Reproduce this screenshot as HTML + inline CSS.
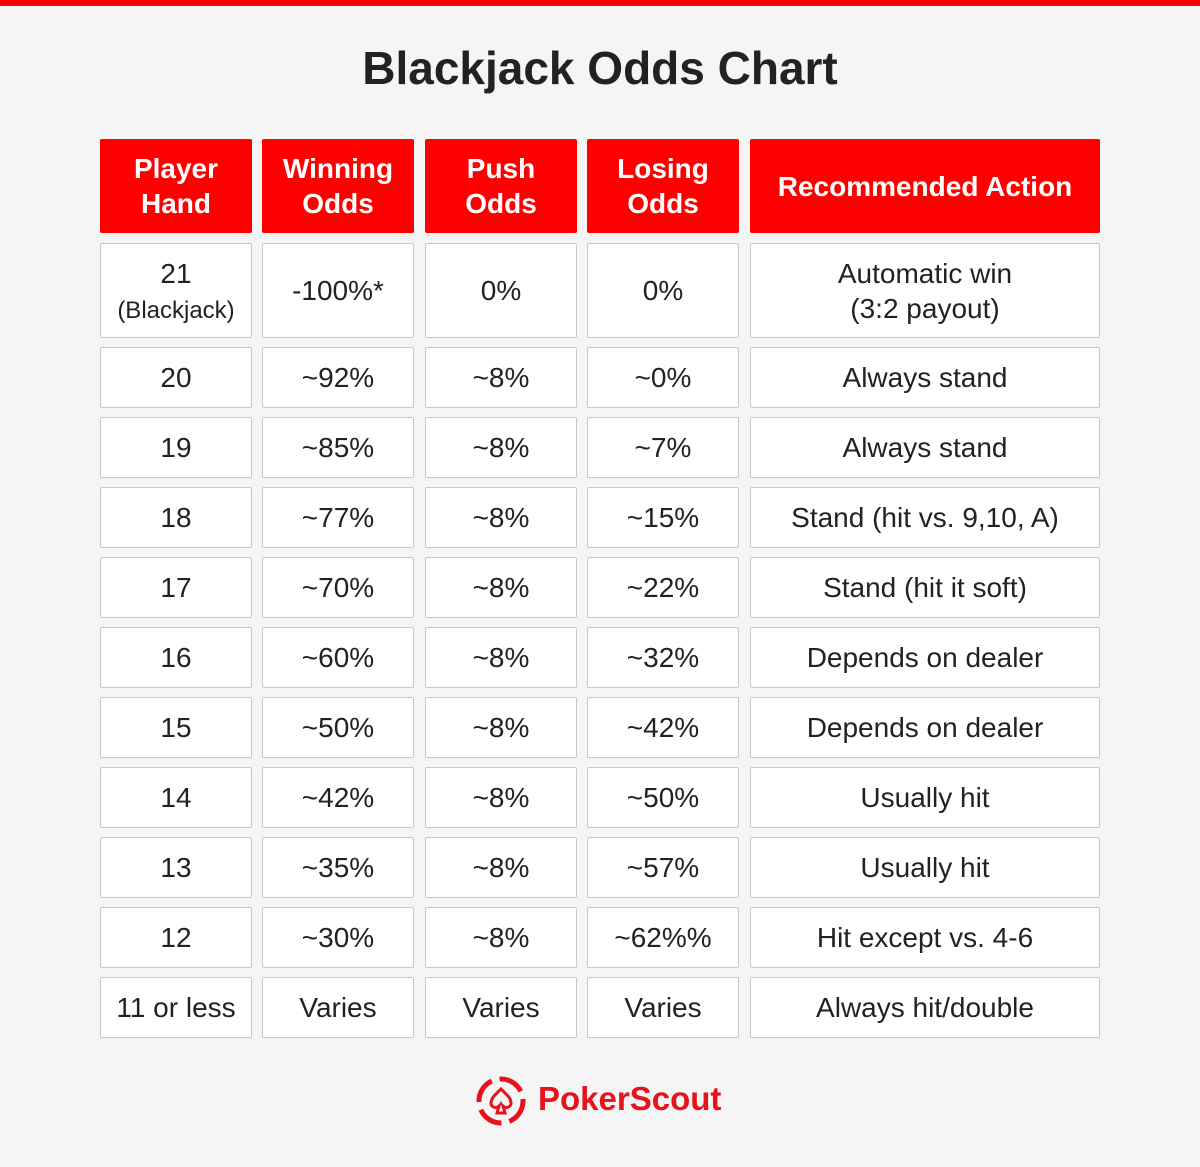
<!DOCTYPE html>
<html><head><style>
body{margin:0;width:1200px;height:1167px;background:#f5f5f6;font-family:"Liberation Sans",sans-serif;position:relative;overflow:hidden}
.top{position:absolute;left:0;top:0;width:1200px;height:6px;background:#f00}
h1{position:absolute;top:41px;left:0;width:1200px;text-align:center;margin:0;font-size:46px;font-weight:bold;color:#222}
.c{position:absolute;box-sizing:border-box;display:flex;align-items:center;justify-content:center;text-align:center;border-radius:2px}
.h{background:#f00;color:#fff;font-weight:bold;font-size:28px;line-height:35px}
.d{background:#fff;border:1.5px solid #c8c8c8;color:#222;font-size:28px;line-height:35px}
.logo{position:absolute;left:475px;top:1075px}
.lt{position:absolute;left:538px;top:1080px;font-size:33px;font-weight:bold;color:#e8121b}
</style></head><body>
<div class="top"></div>
<h1>Blackjack Odds Chart</h1>
<div id="t"></div>
<svg class="logo" width="52" height="52" viewBox="0 0 52 52"><circle cx="26" cy="26" r="22" fill="none" stroke="#e8121b" stroke-width="5" stroke-dasharray="26 8"/><path d="M26 14 C20 20 16 23 16 28 C16 32 21 34 24 31 L22 38 L30 38 L28 31 C31 34 36 32 36 28 C36 23 32 20 26 14Z" fill="none" stroke="#e8121b" stroke-width="3"/></svg>
<div class="lt">PokerScout</div>
<script>
var xs=[[100,152],[262,152],[425,152],[587,152],[750,350]];
var hd=["Player<br>Hand","Winning<br>Odds","Push<br>Odds","Losing<br>Odds","Recommended Action"];
var rows=[["21<br><span style='font-size:24px;line-height:30px'>(Blackjack)</span>","-100%*","0%","0%","Automatic win<br>(3:2 payout)"],
["20","~92%","~8%","~0%","Always stand"],["19","~85%","~8%","~7%","Always stand"],
["18","~77%","~8%","~15%","Stand (hit vs. 9,10, A)"],["17","~70%","~8%","~22%","Stand (hit it soft)"],
["16","~60%","~8%","~32%","Depends on dealer"],["15","~50%","~8%","~42%","Depends on dealer"],
["14","~42%","~8%","~50%","Usually hit"],["13","~35%","~8%","~57%","Usually hit"],
["12","~30%","~8%","~62%%","Hit except vs. 4-6"],["11 or less","Varies","Varies","Varies","Always hit/double"]];
var h="";
xs.forEach(function(x,i){h+='<div class="c h" style="left:'+x[0]+'px;top:139px;width:'+x[1]+'px;height:94px"><div>'+hd[i]+'</div></div>';});
rows.forEach(function(r,j){var y=j==0?243:347+(j-1)*70,hh=j==0?95:61;
xs.forEach(function(x,i){h+='<div class="c d" style="left:'+x[0]+'px;top:'+y+'px;width:'+x[1]+'px;height:'+hh+'px"><div>'+r[i]+'</div></div>';});});
document.getElementById("t").innerHTML=h;
</script>
</body></html>
